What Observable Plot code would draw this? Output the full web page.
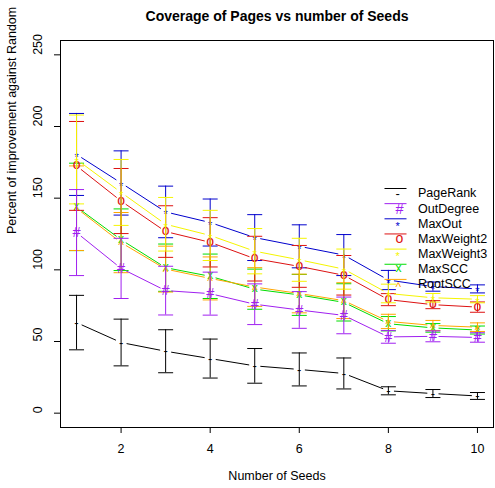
<!DOCTYPE html>
<html>
<head>
<meta charset="utf-8">
<script src="https://cdn.jsdelivr.net/npm/d3@7"></script>
<script src="https://cdn.jsdelivr.net/npm/@observablehq/plot@0.6"></script>
<style>
  body { margin: 0; background: white; }
</style>
</head>
<body>
<div id="chart"></div>
<script>
const seeds = [1, 2, 3, 4, 5, 6, 7, 8, 9, 10]
const seriesNames = ['PageRank', 'OutDegree', 'MaxOut', 'MaxWeight2', 'MaxWeight3', 'MaxSCC', 'RootSCC']
const seriesColors = ['black', '#a020f0', '#0000cd', '#dd1111', '#f5f500', '#00dd00', '#ffa500']
const seriesPch = ['-', '#', '*', 'o', '*', 'x', '^']

// means and error (half width of bar)
const pageRankMean = [63.2, 49.3, 43.2, 38.1, 33, 30.5, 27.7, 15.6, 13.7, 12]
const pageRankErr = [19, 16.3, 15, 13.6, 12.1, 11.5, 10.8, 2.8, 2.8, 2.4]
const outDegreeMean = [126, 101, 85.5, 83.4, 76, 72, 68.2, 53.2, 53.6, 52.8]
const outDegreeErr = [30, 21, 17, 15, 14.2, 12.8, 12.8, 4.4, 3.8, 3.3]
const maxOutMean = [180.5, 160.6, 140.4, 133, 122.5, 116.4, 110.3, 92.9, 88.3, 86.7]
const maxOutErr = [28.6, 22.4, 18, 16.4, 16, 15, 14.3, 6.7, 3.2, 2.8]
const maxWeight2Mean = [172.5, 148, 126.7, 119.2, 107.8, 102.4, 96.2, 79.2, 75.7, 74]
const maxWeight2Err = [31, 22.7, 18, 17.2, 15.6, 14.6, 13.8, 4.2, 2.8, 3.6]
const maxWeight3Mean = [177, 154, 131.8, 124, 113, 107, 100.5, 83.5, 80.5, 79.5]
const maxWeight3Err = [31, 23, 18.7, 17.5, 15.8, 15, 14, 6.5, 3, 2.5]
const maxSCCMean = [143.9, 121, 101.5, 95.5, 86.5, 82.5, 77.3, 62.4, 59.5, 58]
const maxSCCErr = [30.5, 21.5, 16.5, 15.5, 14, 14.3, 13, 5, 3, 2.8]
const rootSCCMean = [143, 119, 100.5, 94, 88, 83.5, 78.5, 64, 61.2, 60]
const rootSCCErr = [29.5, 21, 16, 15, 13.5, 13.5, 12.5, 5, 3.5, 3]

const xTicks = [2, 4, 6, 8, 10]
const yTicks = [0, 50, 100, 150, 200, 250]

const means = [pageRankMean, outDegreeMean, maxOutMean, maxWeight2Mean, maxWeight3Mean, maxSCCMean, rootSCCMean]
const errs = [pageRankErr, outDegreeErr, maxOutErr, maxWeight2Err, maxWeight3Err, maxSCCErr, rootSCCErr]

// order the series are drawn in (later on top)
const drawOrder = [0, 5, 6, 2, 3, 4, 1]

const hline = w => ({draw(ctx) { ctx.moveTo(-w, 0); ctx.lineTo(w, 0) }})

const pchSize = {'-': 13, '#': 14.5, '*': 11, 'o': 14, 'x': 12, '^': 12}
const pchDy = {'-': 0, '#': 0, '*': 3, 'o': -1, 'x': -1, '^': 3}

let seriesMarks = []
drawOrder.forEach(i => {
  const rows = seeds.map((s, j) => ({x: s, y: means[i][j], lo: means[i][j] - errs[i][j], hi: means[i][j] + errs[i][j]}))
  const segs = d3.pairs(rows).map(([a, b]) => ({x1: a.x, y1: a.y, x2: b.x, y2: b.y}))
  const c = seriesColors[i]
  seriesMarks.push(
    Plot.arrow(segs, {x1: 'x1', y1: 'y1', x2: 'x2', y2: 'y2', stroke: c, strokeWidth: 1, headLength: 0, inset: 6}),
    Plot.ruleX(rows, {x: 'x', y1: 'lo', y2: 'hi', stroke: c, strokeWidth: 1}),
    Plot.dot(rows, {x: 'x', y: 'hi', symbol: hline(7.5), stroke: c, strokeWidth: 1}),
    Plot.dot(rows, {x: 'x', y: 'lo', symbol: hline(7.5), stroke: c, strokeWidth: 1}),
    Plot.text(rows, {x: 'x', y: 'y', text: () => seriesPch[i], fill: c, fontSize: pchSize[seriesPch[i]], dy: pchDy[seriesPch[i]]})
  )
})

let legendMarks = []
seriesNames.forEach((name, i) => {
  const dy = 148 + i * 15.15
  legendMarks.push(
    Plot.dot([name], {frameAnchor: 'top-left', dx: 335, dy: dy, symbol: hline(11), stroke: seriesColors[i], strokeWidth: 1}),
    Plot.text([name], {frameAnchor: 'top-left', dx: 335, dy: dy + pchDy[seriesPch[i]], text: () => seriesPch[i], fill: seriesColors[i], fontSize: pchSize[seriesPch[i]]}),
    Plot.text([name], {frameAnchor: 'top-left', dx: 357.5, dy: dy, text: d => d, textAnchor: 'start', fontSize: 12.5})
  )
})

let chart = Plot.plot({
  width: 495,
  height: 488,
  marginLeft: 60,
  marginRight: 2,
  marginTop: 40,
  marginBottom: 61,
  x: {domain: [0.64, 10.36]},
  y: {domain: [-10, 260]},
  style: {fontFamily: "'Liberation Sans', Arial, sans-serif", fontSize: '12.5px', background: 'white', color: 'black'},
  marks: [
    Plot.axisX({ticks: xTicks, tickSize: 6, tickPadding: 11, label: null, fontSize: 12.5}),
    Plot.axisY({ticks: yTicks, tickSize: 6, tickFormat: () => '', label: null}),
    Plot.text(yTicks, {y: d => d, frameAnchor: 'left', dx: -23, rotate: -90, text: d => String(d), fontSize: 12.5}),
    ...seriesMarks,
    Plot.frame({stroke: 'black', strokeWidth: 1}),
    ...legendMarks,
    Plot.text(['Coverage of Pages vs number of Seeds'], {frameAnchor: 'top', dy: -29, fontSize: 14, fontWeight: 'bold'}),
    Plot.text(['Number of Seeds'], {frameAnchor: 'bottom', dy: 52, fontSize: 12.5}),
    Plot.text(['Percent of improvement against Random'], {frameAnchor: 'left', dx: -49, rotate: -90, fontSize: 12.5})
  ]
})

d3.select('#chart').append(() => chart)
</script>
</body>
</html>
